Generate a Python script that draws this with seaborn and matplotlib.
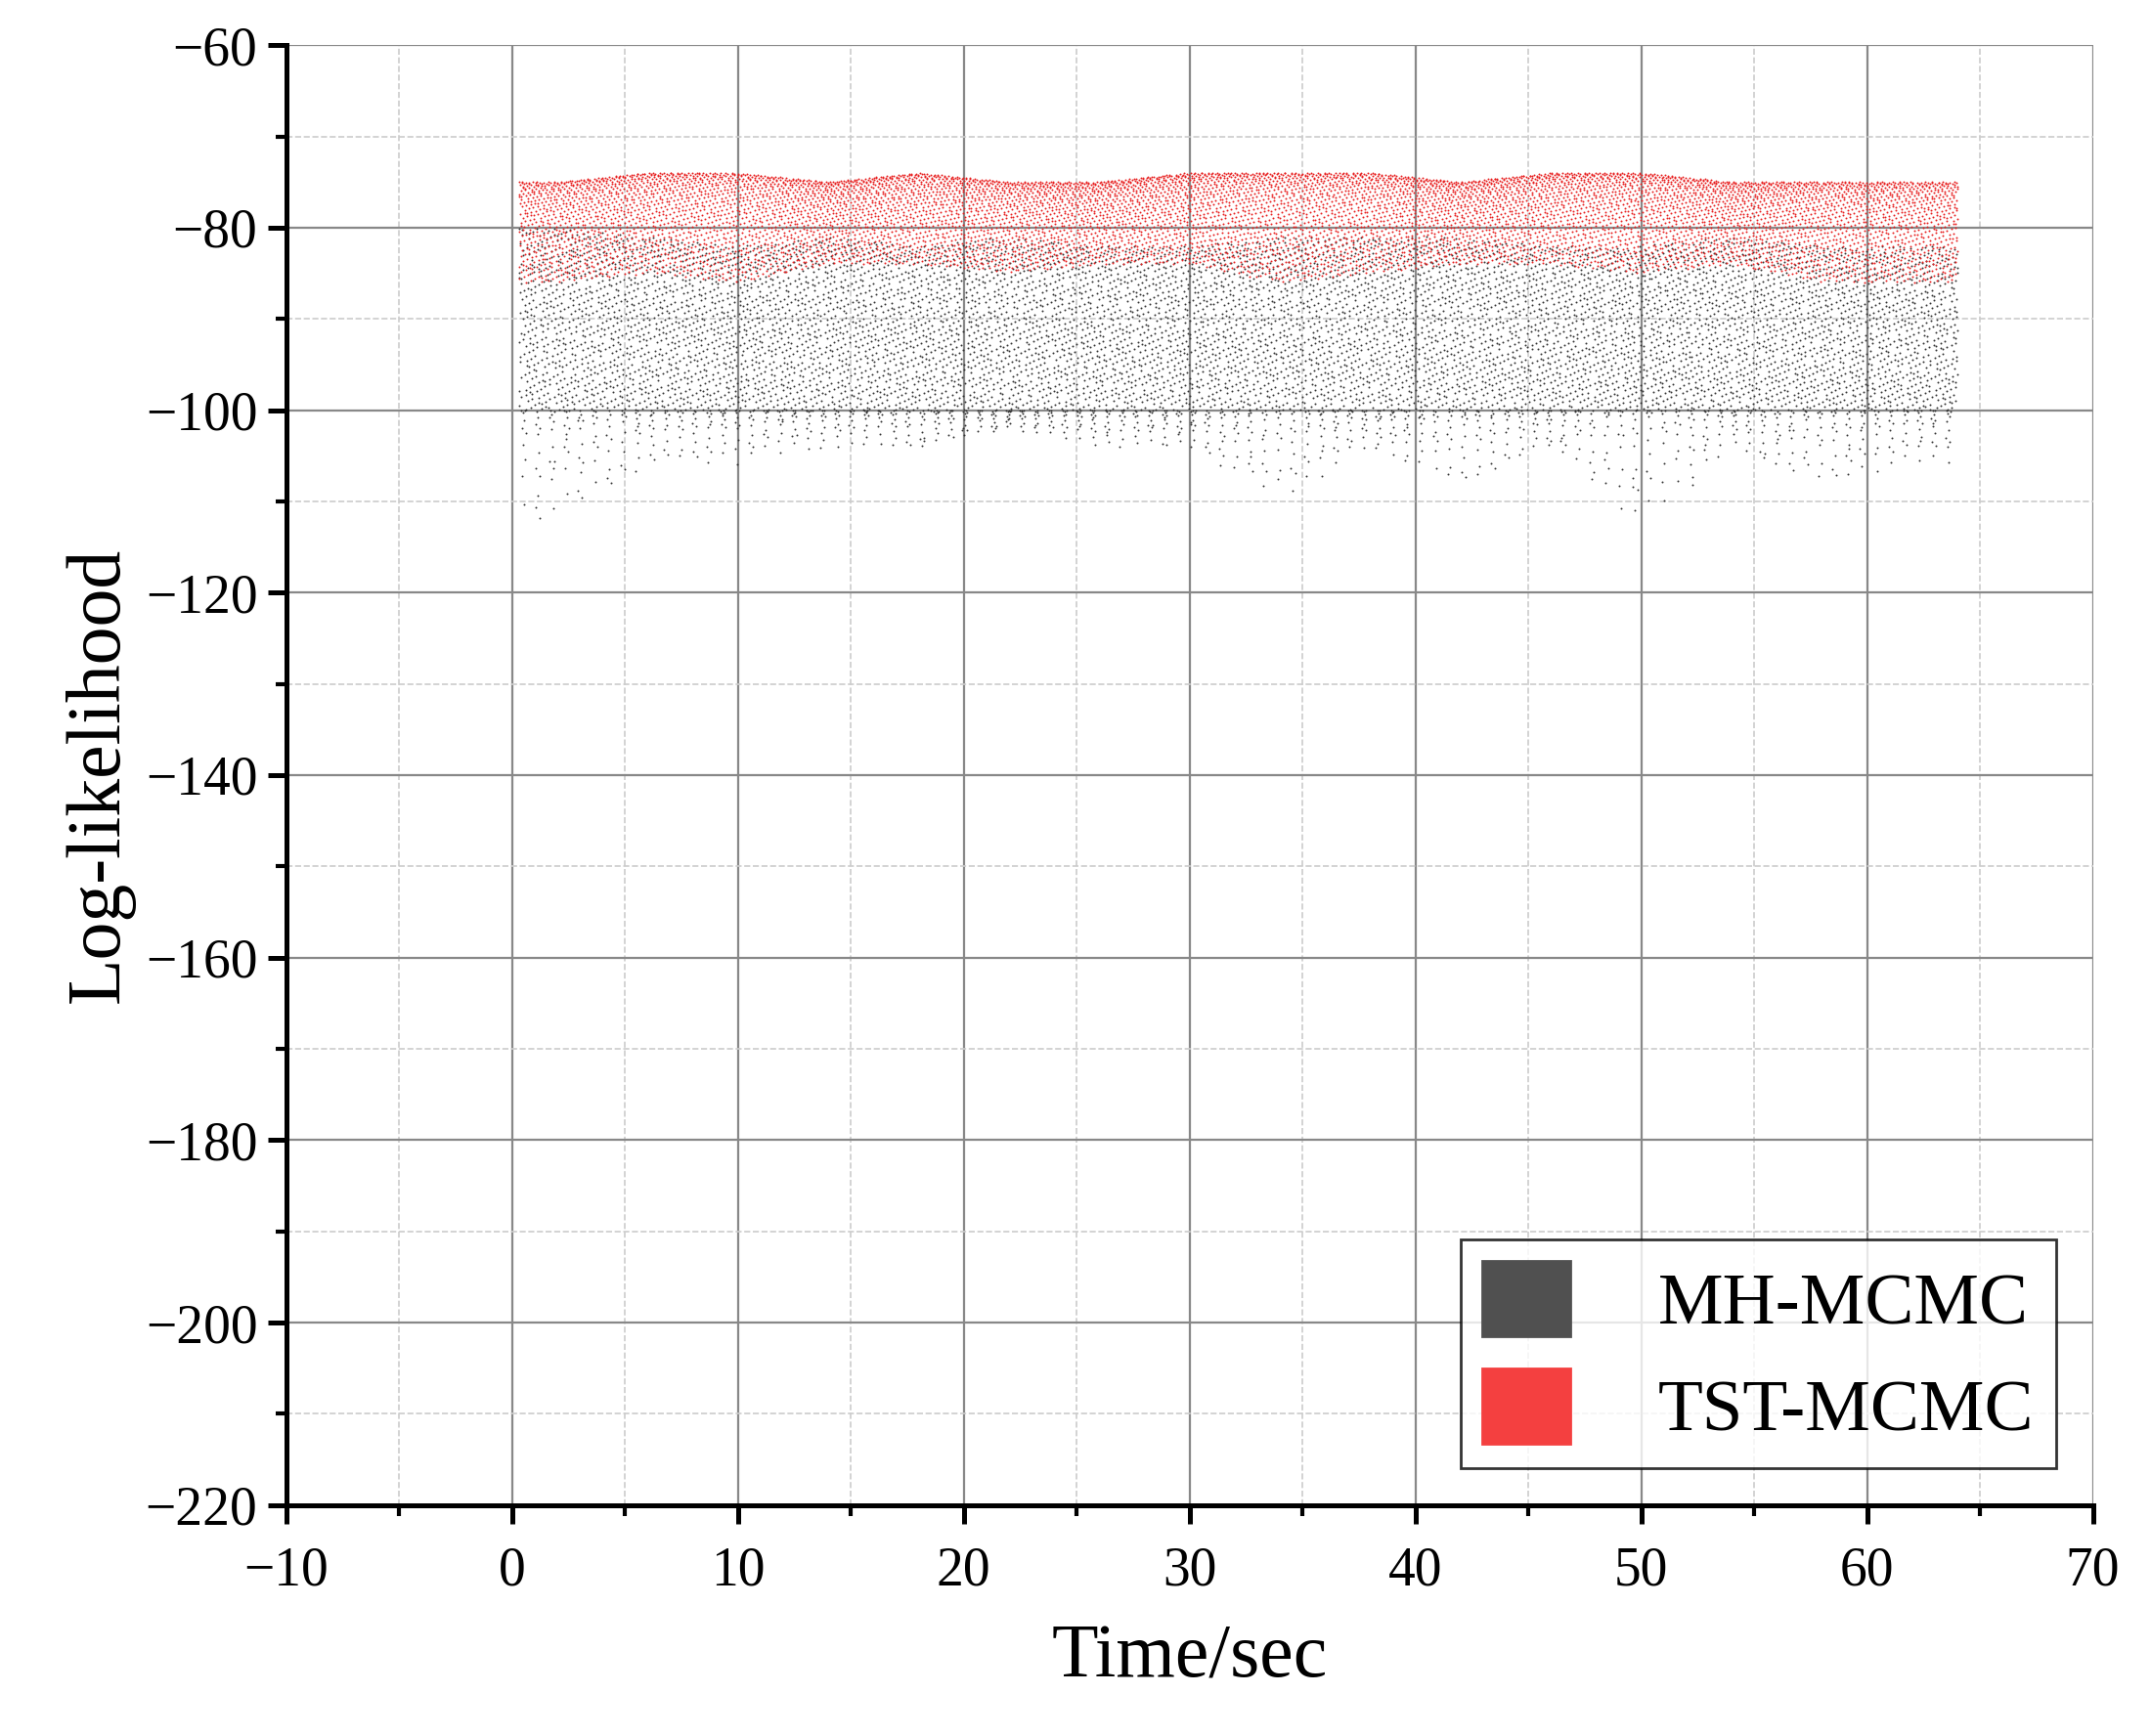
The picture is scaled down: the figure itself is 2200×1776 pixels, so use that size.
import numpy as np
import pandas as pd
import seaborn as sns
import matplotlib.pyplot as plt
from matplotlib.patches import Patch
from matplotlib.ticker import MultipleLocator

# Band edges, one value per 4-second bin centre (2..62 s)
bin_centre = [2, 6, 10, 14, 18, 22, 26, 30, 34, 38, 42, 46, 50, 54, 58, 62]
mh_top = [-80, -81, -82, -81, -82, -81, -82, -82, -81, -81, -81, -82, -82, -81, -82, -82]
mh_low = [-112, -106, -106, -104, -104, -102, -104, -104, -110, -104, -108, -104, -114, -104, -108, -106]
tst_top = [-75, -74, -74, -75, -74, -75, -75, -74, -74, -74, -75, -74, -74, -75, -75, -75]
tst_low = [-86, -85, -86, -84, -84, -85, -84, -84, -86, -85, -84, -84, -85, -84, -86, -86]
t_start, t_end = 0.3, 64.0
n_pts = 9000

# deterministic low-discrepancy spread inside the read-off bands
g = 1.32471795724
k = np.arange(1, n_pts + 1)
u = (0.5 + k / g) % 1.0
v = (0.5 + k / g ** 2) % 1.0
w = (k * np.sqrt(2)) % 1.0
z = (k * np.sqrt(3)) % 1.0

x = t_start + (t_end - t_start) * u
top_m = np.interp(x, bin_centre, mh_top)
low_m = np.interp(x, bin_centre, mh_low)
y_mh = np.where(w < 0.88, top_m + (-100 - top_m) * v, -100 + (low_m + 100) * z ** 2)

x2 = t_start + (t_end - t_start) * ((0.5 + k * 0.7548776662) % 1.0)
v2 = (0.5 + k * 0.5698402910) % 1.0
top_t = np.interp(x2, bin_centre, tst_top)
low_t = np.interp(x2, bin_centre, tst_low)
y_tst = top_t + (low_t - top_t) * v2 ** 1.5

df = pd.DataFrame({
    "method": ["MH-MCMC"] * n_pts + ["TST-MCMC"] * n_pts,
    "time": np.concatenate([x, x2]),
    "ll": np.concatenate([y_mh, y_tst]),
})

sns.set_style("white")
plt.rcParams['font.family'] = ['Liberation Serif', 'DejaVu Serif']
plt.rcParams['text.color'] = 'black'
plt.rcParams['axes.labelcolor'] = 'black'
plt.rcParams['xtick.color'] = 'black'
plt.rcParams['ytick.color'] = 'black'

fig = plt.figure(figsize=(11, 8.88), dpi=200)
ax = fig.add_axes([0.133, 0.133, 0.84, 0.841])
ax.grid(which='minor', color='#cccccc', linestyle='--', linewidth=0.6)
ax.grid(which='major', color='#888888', linestyle='-', linewidth=0.8)
ax.set_axisbelow(True)

colors = {"MH-MCMC": "#333333", "TST-MCMC": "#e82020"}
for m in ["MH-MCMC", "TST-MCMC"]:
    sns.scatterplot(data=df[df.method == m], x="time", y="ll", color=colors[m],
                    s=0.5, linewidth=0, ax=ax, legend=False)

ax.set_xlim(-10, 70)
ax.set_ylim(-220, -60)
ax.xaxis.set_major_locator(MultipleLocator(10))
ax.xaxis.set_minor_locator(MultipleLocator(5))
ax.yaxis.set_major_locator(MultipleLocator(20))
ax.yaxis.set_minor_locator(MultipleLocator(10))
for s in ['top', 'right']:
    ax.spines[s].set_visible(False)
for s in ['left', 'bottom']:
    ax.spines[s].set_linewidth(1.8)
    ax.spines[s].set_color('black')
ax.tick_params(which='major', length=7, width=1.8, labelsize=20, direction='out')
ax.tick_params(which='minor', length=4, width=1.5, direction='out')
ax.tick_params(left=True, bottom=True, which='both')
ax.tick_params(axis='x', pad=8)
ax.set_xlabel("Time/sec", fontsize=28, labelpad=10)
ax.set_ylabel("Log-likelihood", fontsize=28, labelpad=4)

handles = [Patch(color="#505050", label="MH-MCMC"), Patch(color="#f44040", label="TST-MCMC")]
leg = ax.legend(handles=handles, loc='lower right', bbox_to_anchor=(1.0, 0.0), fontsize=27,
                frameon=True, fancybox=False, edgecolor='black', handlelength=1.2,
                handleheight=1.2, borderpad=0.3, labelspacing=0.4, handletextpad=1.2)
leg.get_frame().set_linewidth(1.0)

fig.savefig("out.png", dpi=200)
